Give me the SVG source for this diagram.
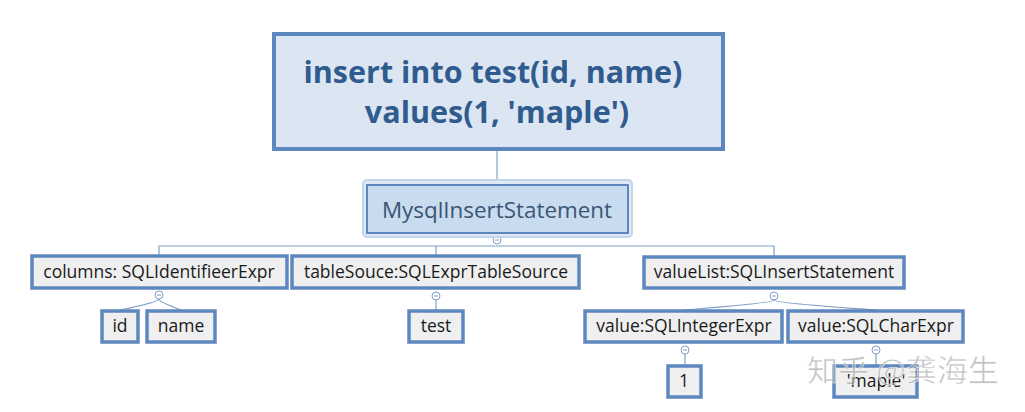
<svg xmlns="http://www.w3.org/2000/svg" width="1025" height="412" viewBox="0 0 1025 412">
<style>
.box{fill:#efefef;stroke:#5d87bf;stroke-width:3.5}
.t{font-family:"Open Sans","Noto Sans","DejaVu Sans",sans-serif;font-size:17.5px;fill:#1a1a1a;text-anchor:middle}
.ln{fill:none;stroke:#7f9fca;stroke-width:1.2}
.c{fill:#fff;stroke:#7f9fca;stroke-width:1}
.cm{stroke:#7f9fca;stroke-width:1}
.h{font-family:"Open Sans","Noto Sans","DejaVu Sans",sans-serif;font-size:30.5px;font-weight:bold;fill:#2f5b8e;text-anchor:middle}
</style>
<rect width="1025" height="412" fill="#fff"/>
<g id="connectors">
<line class="ln" x1="497" y1="150" x2="497" y2="183"/>
<path class="ln" d="M159 256 V246 H774 V256 M436 246 V256"/>
<path class="ln" d="M159 299 Q159 302 120 310 M159 299 Q159 302 181 310"/>
<line class="ln" x1="436" y1="300" x2="436" y2="310"/>
<path class="ln" d="M774 300 Q774 303 685 310 M774 300 Q774 303 876 310"/>
<line class="ln" x1="685" y1="354" x2="685" y2="365"/>
<line class="ln" x1="876" y1="354" x2="876" y2="365"/>
<g id="collapse">
<circle class="c" cx="497" cy="240" r="4"/><line class="cm" x1="495" y1="240" x2="499" y2="240"/>
<circle class="c" cx="159" cy="295" r="4"/><line class="cm" x1="157" y1="295" x2="161" y2="295"/>
<circle class="c" cx="436" cy="296" r="4"/><line class="cm" x1="434" y1="296" x2="438" y2="296"/>
<circle class="c" cx="774" cy="296" r="4"/><line class="cm" x1="772" y1="296" x2="776" y2="296"/>
<circle class="c" cx="685" cy="350" r="4"/><line class="cm" x1="683" y1="350" x2="687" y2="350"/>
<circle class="c" cx="876" cy="350" r="4"/><line class="cm" x1="874" y1="350" x2="878" y2="350"/>
</g>
</g>
<g id="sql">
<rect x="274" y="34" width="449" height="115" fill="#dce6f2" stroke="#5d87bf" stroke-width="4"/>
<text class="h" x="493" y="83">insert into test(id, name)</text>
<text class="h" x="497" y="123">values(1, 'maple')</text>
</g>
<g id="root">
<rect x="363" y="180" width="269" height="57" rx="4" fill="#dfe9f4" stroke="#c2d5ea" stroke-width="2"/>
<rect x="367" y="185" width="261" height="48" fill="#c9dbee" stroke="#5d87bf" stroke-width="2"/>
<text x="497" y="218" font-family="Open Sans, Noto Sans, DejaVu Sans, sans-serif" font-size="22.4" fill="#3a5674" text-anchor="middle">MysqlInsertStatement</text>
</g>
<g id="columns"><rect class="box" x="32" y="256" width="255" height="32"/><text class="t" x="159" y="278">columns: SQLIdentifieerExpr</text></g>
<g id="tableSource"><rect class="box" x="292" y="256" width="287" height="32"/><text class="t" x="436" y="278">tableSouce:SQLExprTableSource</text></g>
<g id="valueList"><rect class="box" x="644" y="257" width="260" height="31"/><text class="t" x="774" y="278">valueList:SQLInsertStatement</text></g>
<g id="id"><rect class="box" x="102" y="311" width="36" height="31"/><text class="t" x="120" y="332">id</text></g>
<g id="name"><rect class="box" x="147" y="311" width="68" height="31"/><text class="t" x="181" y="332">name</text></g>
<g id="test"><rect class="box" x="409" y="311" width="54" height="31"/><text class="t" x="436" y="332">test</text></g>
<g id="intExpr"><rect class="box" x="585" y="311" width="197" height="31"/><text class="t" x="684" y="332">value:SQLIntegerExpr</text></g>
<g id="charExpr"><rect class="box" x="788" y="311" width="175" height="31"/><text class="t" x="876" y="332">value:SQLCharExpr</text></g>
<g id="one"><rect class="box" x="668" y="366" width="33" height="31"/><text class="t" x="684" y="387">1</text></g>
<g id="maple"><rect class="box" x="834" y="366" width="83" height="31"/><text class="t" x="876" y="387">'maple'</text></g>
<text x="807" y="381" textLength="192" lengthAdjust="spacingAndGlyphs" font-family="Noto Sans CJK SC, sans-serif" font-size="30" fill="#9a9a9a" fill-opacity="0.6" stroke="#fff" stroke-width="0.5">知乎 @龚海生</text>
</svg>
